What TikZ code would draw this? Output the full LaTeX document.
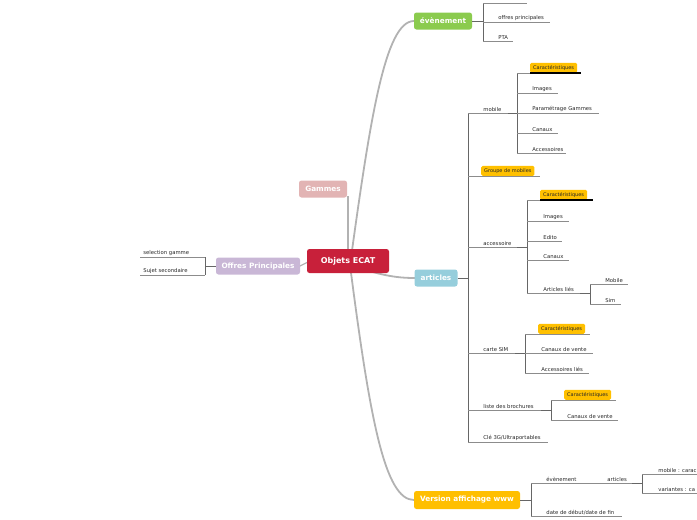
\documentclass[tikz,border=0pt]{standalone}
\usepackage{fontspec}
\setmainfont{DejaVu Sans}
\begin{document}
\begin{tikzpicture}[x=1pt,y=-1pt,
  lbl/.style={anchor=south west,inner sep=1.2pt,font=\fontsize{5.3}{6}\selectfont,text=black!85},
  ln/.style={draw=black!45,line width=0.6pt},
  br/.style={draw=black!60,line width=0.8pt},
  conn/.style={draw=black!30,line width=1.8pt},
  main/.style={rounded corners=2.5pt,text=white,font=\bfseries\fontsize{7.3}{8}\selectfont,minimum height=17pt,inner xsep=4pt},
  tag/.style={fill=tagc,rounded corners=1.5pt,anchor=south west,inner xsep=3pt,inner ysep=2.5pt,font=\fontsize{5}{6}\selectfont,text=black!85}]
\definecolor{ecat}{HTML}{C8203A}
\definecolor{gam}{HTML}{E2B4B4}
\definecolor{off}{HTML}{C9B7D6}
\definecolor{evt}{HTML}{8BCB4E}
\definecolor{art}{HTML}{96CEDC}
\definecolor{www}{HTML}{FFBF00}
\definecolor{tagc}{HTML}{FFC000}
\useasboundingbox (0,0) rectangle (697,520);
% connectors from centre
\coordinate (c) at (350,265);
\draw[conn] (c) .. controls (370,120) and (385,21) .. (414,21);
\draw[conn] (348,249) -- (348,196);
\draw[conn] (c) .. controls (380,275) and (395,278) .. (415,278);
\draw[conn] (c) .. controls (370,420) and (385,500) .. (414,500);
\draw[conn,line width=1.2pt] (308,262) -- (300,266);
% main nodes
\node[main,fill=ecat,minimum width=82pt,minimum height=24pt,font=\bfseries\fontsize{8}{9}\selectfont] (ecat) at (348,261) {Objets ECAT};
\node[main,fill=gam,minimum width=48pt] (gam) at (323,189) {Gammes};
\node[main,fill=off,minimum width=84pt] (off) at (258,266) {Offres Principales};
\node[main,fill=evt,minimum width=58pt] (evt) at (443,21) {évènement};
\node[main,fill=art,minimum width=43pt] (art) at (436,278) {articles};
\node[main,fill=www,minimum width=106pt,minimum height=18pt] (www) at (467,500) {Version affichage www};
% Offres Principales children
\draw[br] (off.west) -- (205,266);
\draw[br] (205,257) -- (205,275);
\draw[ln] (205,257) -- (140,257);
\draw[ln] (205,275) -- (140,275);
\node[lbl] at (142,257) {selection gamme};
\node[lbl] at (142,275) {Sujet secondaire};
% évènement children
\draw[br] (evt.east) -- (483,21);
\draw[br] (483,3) -- (483,41);
\draw[ln] (483,3) -- (527,3);
\draw[ln] (483,22) -- (550,22);
\draw[ln] (483,41) -- (513,41);
\node[lbl] at (497,22) {offres principales};
\node[lbl] at (497,41) {PTA};
% articles trunk
\draw[br] (art.east) -- (468,278);
\draw[br] (468,113) -- (468,442);
% mobile
\draw[ln] (468,113) -- (508,113);
\node[lbl] at (482,113) {mobile};
\draw[br] (508,113) -- (517,113);
\draw[br] (517,73) -- (517,153);
\draw[ln] (517,73) -- (530,73);
\node[tag] at (530,73) {Caractéristiques};
\draw[line width=2pt,black] (530,73) -- (581,73);
\draw[ln] (517,93) -- (558,93); \node[lbl] at (531,93) {Images};
\draw[ln] (517,113) -- (599,113); \node[lbl] at (531,113) {Paramétrage Gammes};
\draw[ln] (517,133) -- (558,133); \node[lbl] at (531,133) {Canaux};
\draw[ln] (517,153) -- (566,153); \node[lbl] at (531,153) {Accessoires};
% groupe de mobiles
\draw[ln] (468,176) -- (540,176);
\node[tag] at (481,176) {Groupe de mobiles};
% accessoire
\draw[ln] (468,247) -- (517,247); \node[lbl] at (482,247) {accessoire};
\draw[br] (517,247) -- (527,247);
\draw[br] (527,200) -- (527,293);
\draw[ln] (527,200) -- (540,200);
\node[tag] at (540,200) {Caractéristiques};
\draw[line width=2pt,black] (540,200) -- (593,200);
\draw[ln] (527,221) -- (569,221); \node[lbl] at (542,221) {Images};
\draw[ln] (527,241) -- (562,241); \node[lbl] at (542,241) {Edito};
\draw[ln] (527,260) -- (569,260); \node[lbl] at (542,260) {Canaux};
\draw[ln] (527,293) -- (580,293); \node[lbl] at (542,293) {Articles liés};
\draw[br] (580,293) -- (590,293);
\draw[br] (590,284) -- (590,304);
\draw[ln] (590,284) -- (628,284); \node[lbl] at (604,284) {Mobile};
\draw[ln] (590,304) -- (621,304); \node[lbl] at (604,304) {Sim};
% carte SIM
\draw[ln] (468,353) -- (515,353); \node[lbl] at (482,353) {carte SIM};
\draw[br] (515,353) -- (525,353);
\draw[br] (525,334) -- (525,373);
\draw[ln] (525,334) -- (590,334);
\node[tag] at (538,334) {Caractéristiques};
\draw[ln] (525,353) -- (593,353); \node[lbl] at (540,353) {Canaux de vente};
\draw[ln] (525,373) -- (589,373); \node[lbl] at (540,373) {Accessoires liés};
% liste des brochures
\draw[ln] (468,410) -- (541,410); \node[lbl] at (482,410) {liste des brochures};
\draw[br] (541,410) -- (551,410);
\draw[br] (551,400) -- (551,420);
\draw[ln] (551,400) -- (616,400);
\node[tag] at (564,400) {Caractéristiques};
\draw[ln] (551,420) -- (618,420); \node[lbl] at (566,420) {Canaux de vente};
% clé
\draw[ln] (468,442) -- (548,442); \node[lbl] at (482,442) {Clé 3G/Ultraportables};
% www
\draw[br] (www.east) -- (531,500);
\draw[br] (531,483) -- (531,516);
\draw[ln] (531,483) -- (632,483);
\node[lbl] at (545,483) {évènement};
\node[lbl] at (606,483) {articles};
\draw[br] (632,483) -- (642,483);
\draw[br] (642,474) -- (642,493);
\draw[ln] (642,474) -- (697,474); \node[lbl] at (657,474) {mobile : carac};
\draw[ln] (642,493) -- (697,493); \node[lbl] at (657,493) {variantes : ca};
\draw[ln] (531,516) -- (622,516); \node[lbl] at (545,516) {date de début/date de fin};
\end{tikzpicture}
\end{document}
